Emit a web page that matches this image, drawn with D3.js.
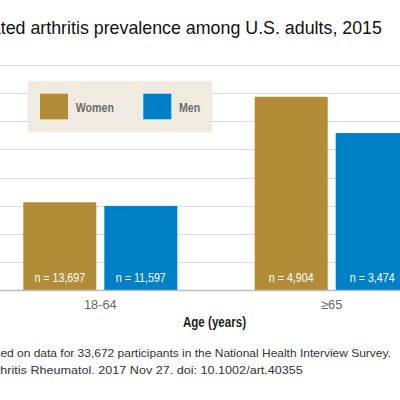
<!DOCTYPE html>
<html>
<head>
<meta charset="utf-8">
<script src="https://cdn.jsdelivr.net/npm/d3@7"></script>
<style>
  body { margin: 0; background: #fff; }
  svg { display: block; }
  text { font-family: 'Liberation Sans', Arial, sans-serif; }
</style>
</head>
<body>
<svg id="chart" width="400" height="400"></svg>
<script>
// data
const ages = ['18-64', '\u226565'];
const sexes = ['Women', 'Men'];
const women = [31.2, 68.7];
const men = [29.9, 55.8];
const womenN = ['13,697', '4,904'];
const menN = ['11,597', '3,474'];
const yTicks = [0, 10, 20, 30, 40, 50, 60, 70, 80];

const colors = { Women: '#b38c37', Men: '#0080c6' };

const svg = d3.select('#chart');
const baseY = 290;
const topY = 65;

const y = d3.scaleLinear().domain([0, 80]).range([baseY, topY]);

const x0 = d3.scaleBand()
  .domain(ages)
  .range([23.3, 408.7])
  .paddingInner(0.3345);

const x1 = d3.scaleBand()
  .domain(sexes)
  .range([0, x0.bandwidth()])
  .paddingInner(0.0988);

// squeeze a text horizontally so chars [k..end] run from xa to xb
function fitSpan(t, k, xa, xb, yPos) {
  const node = t.node();
  const full = node.getComputedTextLength();
  const pre = k > 0 ? node.getSubStringLength(0, k) : 0;
  const s = (xb - xa) / (full - pre);
  t.attr('x', 0).attr('y', 0)
    .attr('transform', `translate(${xa - pre * s},${yPos}) scale(${s},1)`);
}

// condensed text centred on cx
function condensed(t, cx, yPos, s) {
  t.attr('x', 0).attr('y', 0)
    .attr('text-anchor', 'middle')
    .attr('transform', `translate(${cx},${yPos}) scale(${s},1)`);
}

// gridlines
svg.append('g')
  .selectAll('line')
  .data(yTicks.slice(1))
  .enter()
  .append('line')
  .attr('x1', 0)
  .attr('x2', 400)
  .attr('y1', (d) => Math.round(y(d)) + 0.5)
  .attr('y2', (d) => Math.round(y(d)) + 0.5)
  .attr('stroke', '#dcdcdc')
  .attr('stroke-width', 1);

// legend
const legend = svg.append('g');
legend.append('rect')
  .attr('x', 27.7).attr('y', 81)
  .attr('width', 184.6).attr('height', 51.3)
  .attr('fill', '#f0ebe1');

const legendX = { Women: 40, Men: 143.3 };
sexes.forEach((s) => {
  legend.append('rect')
    .attr('x', legendX[s]).attr('y', 93.7)
    .attr('width', 28).attr('height', 25.6)
    .attr('fill', colors[s]);
  legend.append('text')
    .attr('font-weight', 'bold')
    .attr('font-size', 13)
    .attr('fill', '#6e6e6e')
    .text(s)
    .attr('transform', `translate(${legendX[s] + 35.7},111.5) scale(0.82,1)`);
});

// bars
const rows = ages.map((a, i) => ({
  age: a,
  values: [
    { sex: 'Women', value: women[i], n: womenN[i] },
    { sex: 'Men', value: men[i], n: menN[i] },
  ],
}));

const groups = svg.append('g')
  .selectAll('.group')
  .data(rows)
  .enter()
  .append('g')
  .attr('class', 'group')
  .attr('transform', (d) => `translate(${x0(d.age)},0)`);

const bar = groups.selectAll('.bar')
  .data((d) => d.values)
  .enter()
  .append('g')
  .attr('class', 'bar');

bar.append('rect')
  .attr('x', (d) => x1(d.sex))
  .attr('y', (d) => y(d.value))
  .attr('width', x1.bandwidth())
  .attr('height', (d) => baseY - y(d.value))
  .attr('fill', (d) => colors[d.sex]);

bar.append('text')
  .attr('font-size', 12)
  .attr('fill', '#fff')
  .text((d) => `n = ${d.n}`)
  .each(function (d) {
    condensed(d3.select(this), x1(d.sex) + x1.bandwidth() / 2, 282.3, 0.89);
  });

// baseline
svg.append('line')
  .attr('x1', 0).attr('x2', 400)
  .attr('y1', baseY + 0.5).attr('y2', baseY + 0.5)
  .attr('stroke', '#bdbdbd')
  .attr('stroke-width', 1.5);

// x axis labels
svg.append('g')
  .selectAll('text')
  .data(ages)
  .enter()
  .append('text')
  .attr('x', (d) => x0(d) + x0.bandwidth() / 2)
  .attr('y', 309)
  .attr('text-anchor', 'middle')
  .attr('font-size', 12.8)
  .attr('fill', '#666')
  .text((d) => d);

const axisTitle = svg.append('text')
  .attr('font-weight', 'bold')
  .attr('font-size', 14.5)
  .attr('fill', '#222')
  .text('Age (years)');
condensed(axisTitle, 214.5, 327.3, 0.8);

// title
const title = svg.append('text')
  .attr('font-size', 17.8)
  .attr('fill', '#111')
  .text('Estimated arthritis prevalence among U.S. adults, 2015');
fitSpan(title, 6, 0.7, 382, 34);

// notes
const note = svg.append('text')
  .attr('font-size', 11.8)
  .attr('fill', '#333')
  .text('Note: Based on data for 33,672 participants in the National Health Interview Survey.');
fitSpan(note, 9, 0.5, 391.7, 356.5);

const source = svg.append('text')
  .attr('font-size', 11.8)
  .attr('fill', '#333')
  .text('Source: Arthritis Rheumatol. 2017 Nov 27. doi: 10.1002/art.40355');
fitSpan(source, 11, 0.3, 303, 373.5);
</script>
</body>
</html>
